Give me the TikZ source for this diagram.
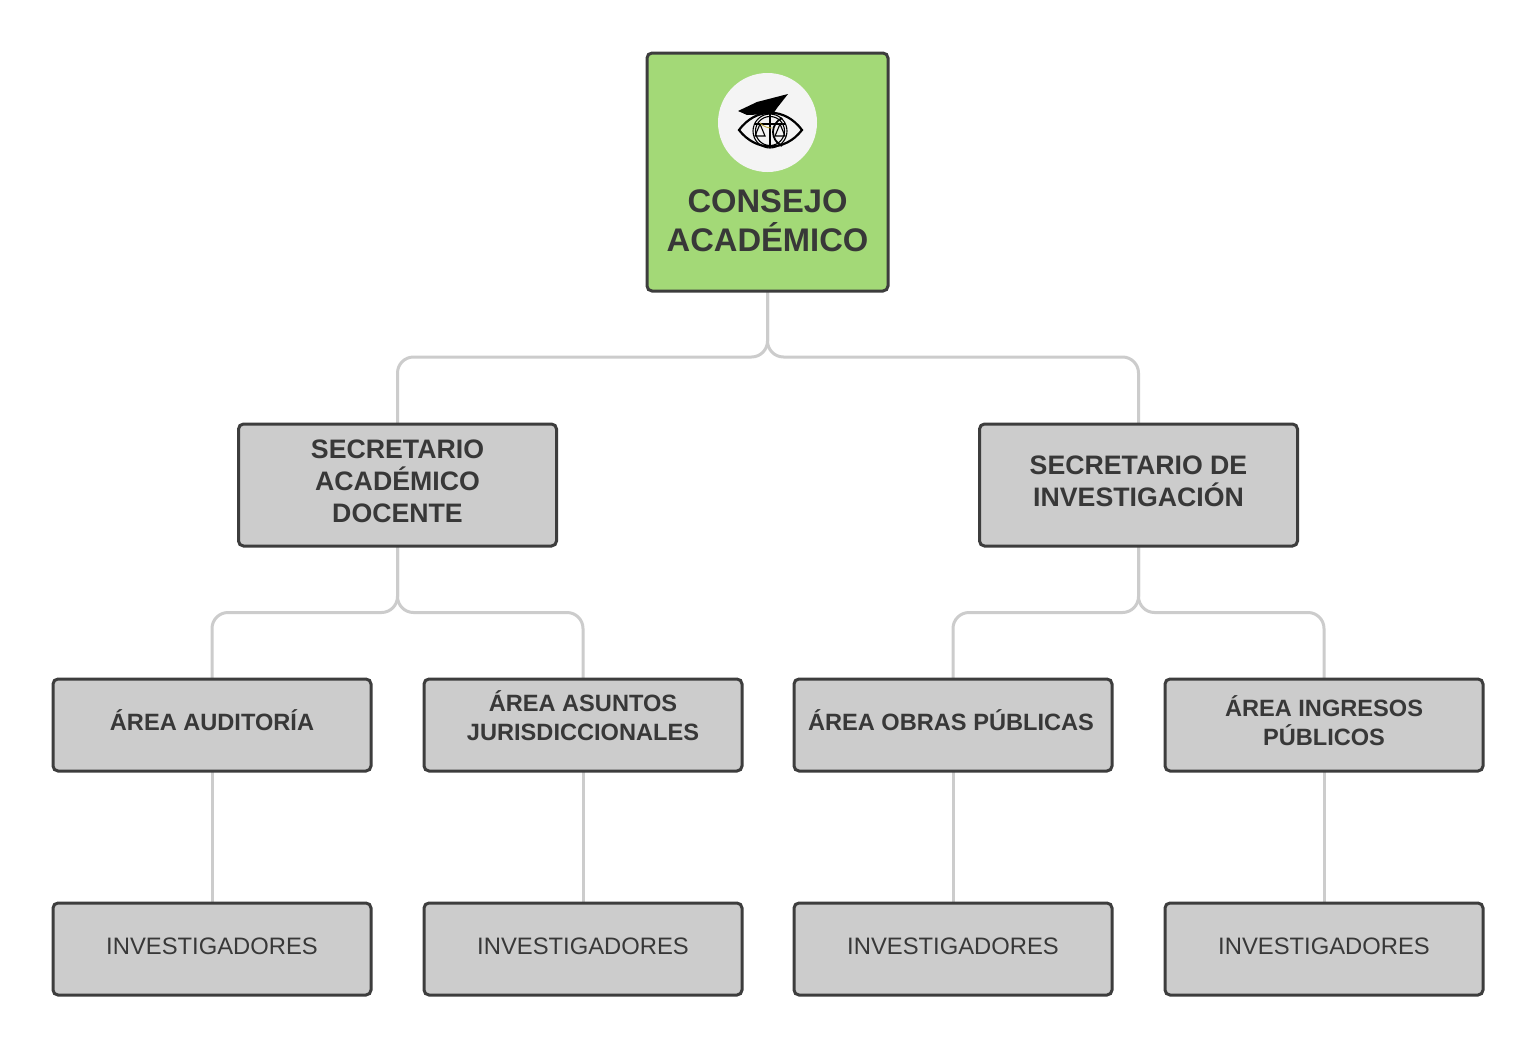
\documentclass[tikz,border=0pt]{standalone}
\usepackage{fontspec}
\setmainfont{Liberation Sans}
\definecolor{edgegrey}{HTML}{3D3D3D}
\definecolor{boxgrey}{HTML}{CCCCCC}
\definecolor{rootgreen}{HTML}{A3D977}
\definecolor{txt}{HTML}{383838}
\definecolor{logoback}{HTML}{F4F4F4}
\definecolor{logogold}{HTML}{B8A030}
\tikzset{
  box/.style={draw=edgegrey,fill=boxgrey,line width=1.5pt,rounded corners=2.5pt,outer sep=0pt,inner sep=0pt,minimum width=159pt,anchor=center},
  midbox/.style={box,minimum height=61pt},
  areabox/.style={box,minimum height=46pt},
  rootbox/.style={box,fill=rootgreen,minimum width=120.5pt,minimum height=119pt},
  link/.style={draw=boxgrey,line width=1.5pt,rounded corners=8pt},
  roottext/.style={align=center,text=txt,font=\fontsize{16.35}{19.5}\selectfont\bfseries,inner sep=0pt},
  midtext/.style={align=center,text=txt,font=\fontsize{13.35}{16}\selectfont\bfseries,inner sep=0pt},
  areatext/.style={align=center,text=txt,font=\fontsize{11.8}{14.5}\selectfont\bfseries,inner sep=0pt},
  invtext/.style={align=center,text=txt,font=\fontsize{11.9}{15}\selectfont,inner sep=0pt},
  logoline/.style={draw=black,line width=0.55pt}
}
\begin{document}
\begin{tikzpicture}[x=0.5pt,y=-0.5pt]
\useasboundingbox (0,0) rectangle (1536,1050);
\fill[white] (0,0) rectangle (1536,1050);
\coordinate (bus0) at (0,357);
\coordinate (bus1) at (0,612.5);
% links are laid first, so nodes sit on top
\path (767.5,172) coordinate (rootc)
      (397.5,485) coordinate (sac) (1138.5,485) coordinate (sic)
      (212,725) coordinate (a1c) (583,725) coordinate (a2c) (953,725) coordinate (a3c) (1324,725) coordinate (a4c)
      (212,949) coordinate (i1c) (583,949) coordinate (i2c) (953,949) coordinate (i3c) (1324,949) coordinate (i4c);
\draw[link] (rootc) -- (rootc |- bus0) -- (sac |- bus0) -- (sac);
\draw[link] (rootc) -- (rootc |- bus0) -- (sic |- bus0) -- (sic);
\draw[link] (sac) -- (sac |- bus1) -- (a1c |- bus1) -- (a1c);
\draw[link] (sac) -- (sac |- bus1) -- (a2c |- bus1) -- (a2c);
\draw[link] (sic) -- (sic |- bus1) -- (a3c |- bus1) -- (a3c);
\draw[link] (sic) -- (sic |- bus1) -- (a4c |- bus1) -- (a4c);
\draw[link] (a1c) -- (i1c);
\draw[link] (a2c) -- (i2c);
\draw[link] (a3c) -- (i3c);
\draw[link] (a4c) -- (i4c);
% boxes
\node[rootbox] (root) at (rootc) {};
\node[midbox] (sa) at (sac) {};
\node[midbox] (si) at (sic) {};
\node[areabox] (a1) at (a1c) {};
\node[areabox] (a2) at (a2c) {};
\node[areabox] (a3) at (a3c) {};
\node[areabox] (a4) at (a4c) {};
\node[areabox] (i1) at (i1c) {};
\node[areabox] (i2) at (i2c) {};
\node[areabox] (i3) at (i3c) {};
\node[areabox] (i4) at (i4c) {};
% logo
\fill[logoback] (767.5,122.5) circle (49.5);
\draw[logoline,line width=1.1pt] (739,130) .. controls (756,107) and (785,107) .. (802,130) .. controls (785,152) and (756,152) .. (739,130) -- cycle;
\draw[logoline] (770,131) circle (17);
\draw[logoline] (770,131) circle (14.5);
\draw[logoline,line width=1.1pt] (770,114) -- (770,148);
\draw[logoline] (755,124) -- (785,124);
\draw[logoline] (760,124) -- (755,136) -- (765,136) -- cycle;
\draw[logoline] (780,124) -- (775,136) -- (785,136) -- cycle;
\draw[logoline,line width=0.9pt] (782,118) .. controls (770,124) and (770,140) .. (782,146);
\fill[black] (738,111) -- (757,102) -- (788,94) -- (777,108) -- (773,114) -- (747,115) -- cycle;
\draw[logogold,line width=0.4pt] (760,123) .. controls (764,127) and (768,128) .. (772,128);
% labels
\node[roottext] (troot) at (767.5,220.5) {CONSEJO\\ACADÉMICO};
\node[midtext] (tsa) at (397.5,481.5) {SECRETARIO\\ACADÉMICO\\DOCENTE};
\node[midtext] (tsi) at (1138.5,481.5) {SECRETARIO DE\\INVESTIGACIÓN};
\node[areatext] (ta1) at (212,720) {ÁREA AUDITORÍA};
\node[areatext] (ta2) at (583,716) {ÁREA ASUNTOS\\JURISDICCIONALES};
\node[areatext] (ta3) at (951,720) {ÁREA OBRAS PÚBLICAS};
\node[areatext] (ta4) at (1324,721) {ÁREA INGRESOS\\PÚBLICOS};
\node[invtext] (ti1) at (212,946) {INVESTIGADORES};
\node[invtext] (ti2) at (583,946) {INVESTIGADORES};
\node[invtext] (ti3) at (953,946) {INVESTIGADORES};
\node[invtext] (ti4) at (1324,946) {INVESTIGADORES};
\end{tikzpicture}
\end{document}
